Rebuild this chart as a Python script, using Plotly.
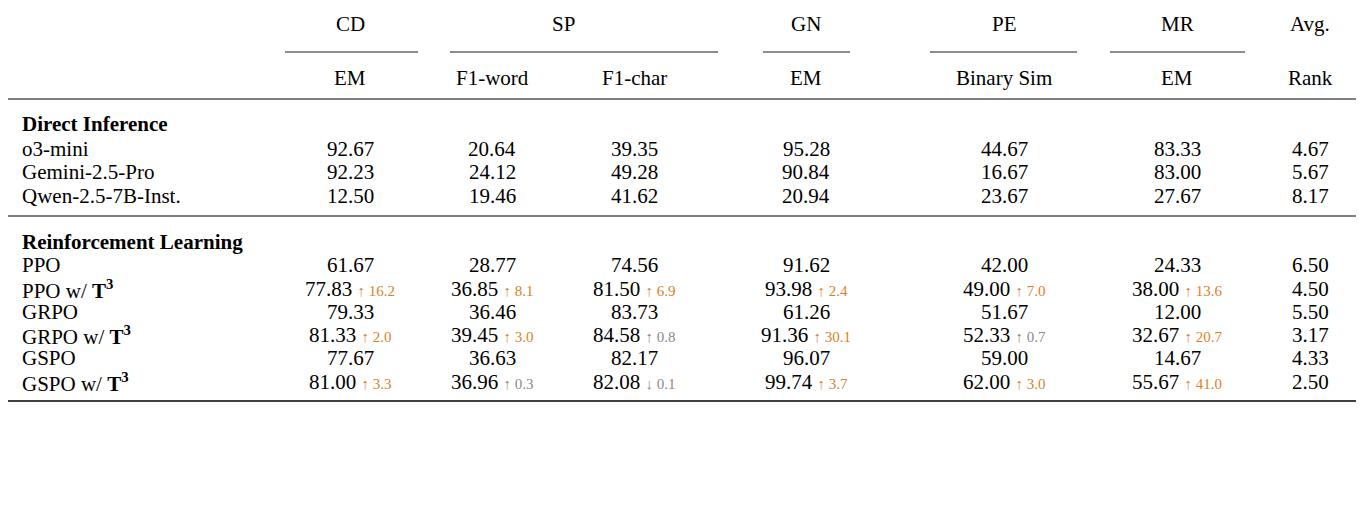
import plotly.graph_objects as go

groups = ["CD", "SP", "GN", "PE", "MR", "Avg."]
metrics = ["EM", "F1-word", "F1-char", "EM", "Binary Sim", "EM", "Rank"]
sections = ["Direct Inference", "Reinforcement Learning"]
di_models = ["o3-mini", "Gemini-2.5-Pro", "Qwen-2.5-7B-Inst."]
di_values = [
    [92.67, 20.64, 39.35, 95.28, 44.67, 83.33, 4.67],
    [92.23, 24.12, 49.28, 90.84, 16.67, 83.00, 5.67],
    [12.50, 19.46, 41.62, 20.94, 23.67, 27.67, 8.17],
]
rl_models = ["PPO", "PPO w/ T3", "GRPO", "GRPO w/ T3", "GSPO", "GSPO w/ T3"]
rl_values = [
    [61.67, 28.77, 74.56, 91.62, 42.00, 24.33, 6.50],
    [77.83, 36.85, 81.50, 93.98, 49.00, 38.00, 4.50],
    [79.33, 36.46, 83.73, 61.26, 51.67, 12.00, 5.50],
    [81.33, 39.45, 84.58, 91.36, 52.33, 32.67, 3.17],
    [77.67, 36.63, 82.17, 96.07, 59.00, 14.67, 4.33],
    [81.00, 36.96, 82.08, 99.74, 62.00, 55.67, 2.50],
]
rl_deltas = [
    None,
    [16.2, 8.1, 6.9, 2.4, 7.0, 13.6],
    None,
    [2.0, 3.0, 0.8, 30.1, 0.7, 20.7],
    None,
    [3.3, 0.3, -0.1, 3.7, 3.0, 41.0],
]

ORANGE = "#d9822b"
GRAY = "#8a8a8a"
FONT = "Liberation Serif"
W, H = 1364, 506
OFF = 8  # page body margin

col_x = [350, 492, 634, 806, 1004, 1177, 1310]
group_x = [350, 563, 806, 1004, 1177, 1310]
group_rule = [(285, 418), (450, 718), (763, 850), (930, 1077), (1110, 1245)]
label_x = 20

fig = go.Figure()
ann = []

def txt(x, y, t, anchor="center", size=21, color="black"):
    ann.append(dict(x=x, y=y, xref="x", yref="y", text=t, showarrow=False,
                    xanchor=anchor, yanchor="middle",
                    font=dict(family=FONT, size=size, color=color)))

for g, gx in zip(groups, group_x):
    txt(gx, 24, g)
for m, cx in zip(metrics, col_x):
    txt(cx, 78, m)

txt(label_x, 124, "<b>" + sections[0] + "</b>", "left")
di_y = [149, 172, 196]
for name, vals, y in zip(di_models, di_values, di_y):
    txt(label_x, y, name, "left")
    for v, cx in zip(vals, col_x):
        txt(cx, y, f"{v:.2f}")

txt(label_x, 242, "<b>" + sections[1] + "</b>", "left")
rl_y = [265, 289, 312, 335, 358, 382]
for name, vals, d, y in zip(rl_models, rl_values, rl_deltas, rl_y):
    label = name.replace("T3", "<b>T</b><sup><b>3</b></sup>")
    txt(label_x, y, label, "left")
    for i, (v, cx) in enumerate(zip(vals, col_x)):
        if d is not None and i < len(d):
            dv = d[i]
            color = ORANGE if abs(dv) >= 1 else GRAY
            arrow = "↑" if dv >= 0 else "↓"
            t = f"{v:.2f} <span style='font-size:15px;color:{color}'>{arrow} {abs(dv):.1f}</span>"
            txt(cx, y, t)
        else:
            txt(cx, y, f"{v:.2f}")

shapes = []
def hline(x0, x1, y, w):
    shapes.append(dict(type="line", xref="x", yref="y", x0=x0, x1=x1, y0=y, y1=y,
                       line=dict(color="black", width=w)))
hline(2, 1362, 3, 1.6)
for a, b in group_rule:
    hline(a, b, 52, 0.9)
hline(2, 1362, 99, 1.0)
hline(2, 1362, 216, 1.0)
hline(2, 1362, 401, 1.6)

fig.update_layout(
    width=W, height=H, margin=dict(l=0, r=0, t=0, b=0),
    paper_bgcolor="white", plot_bgcolor="white",
    xaxis=dict(range=[OFF, W + OFF], visible=False, fixedrange=True),
    yaxis=dict(range=[H + OFF, OFF], visible=False, fixedrange=True),
    annotations=ann, shapes=shapes, showlegend=False,
)
fig.write_html("out.html")
